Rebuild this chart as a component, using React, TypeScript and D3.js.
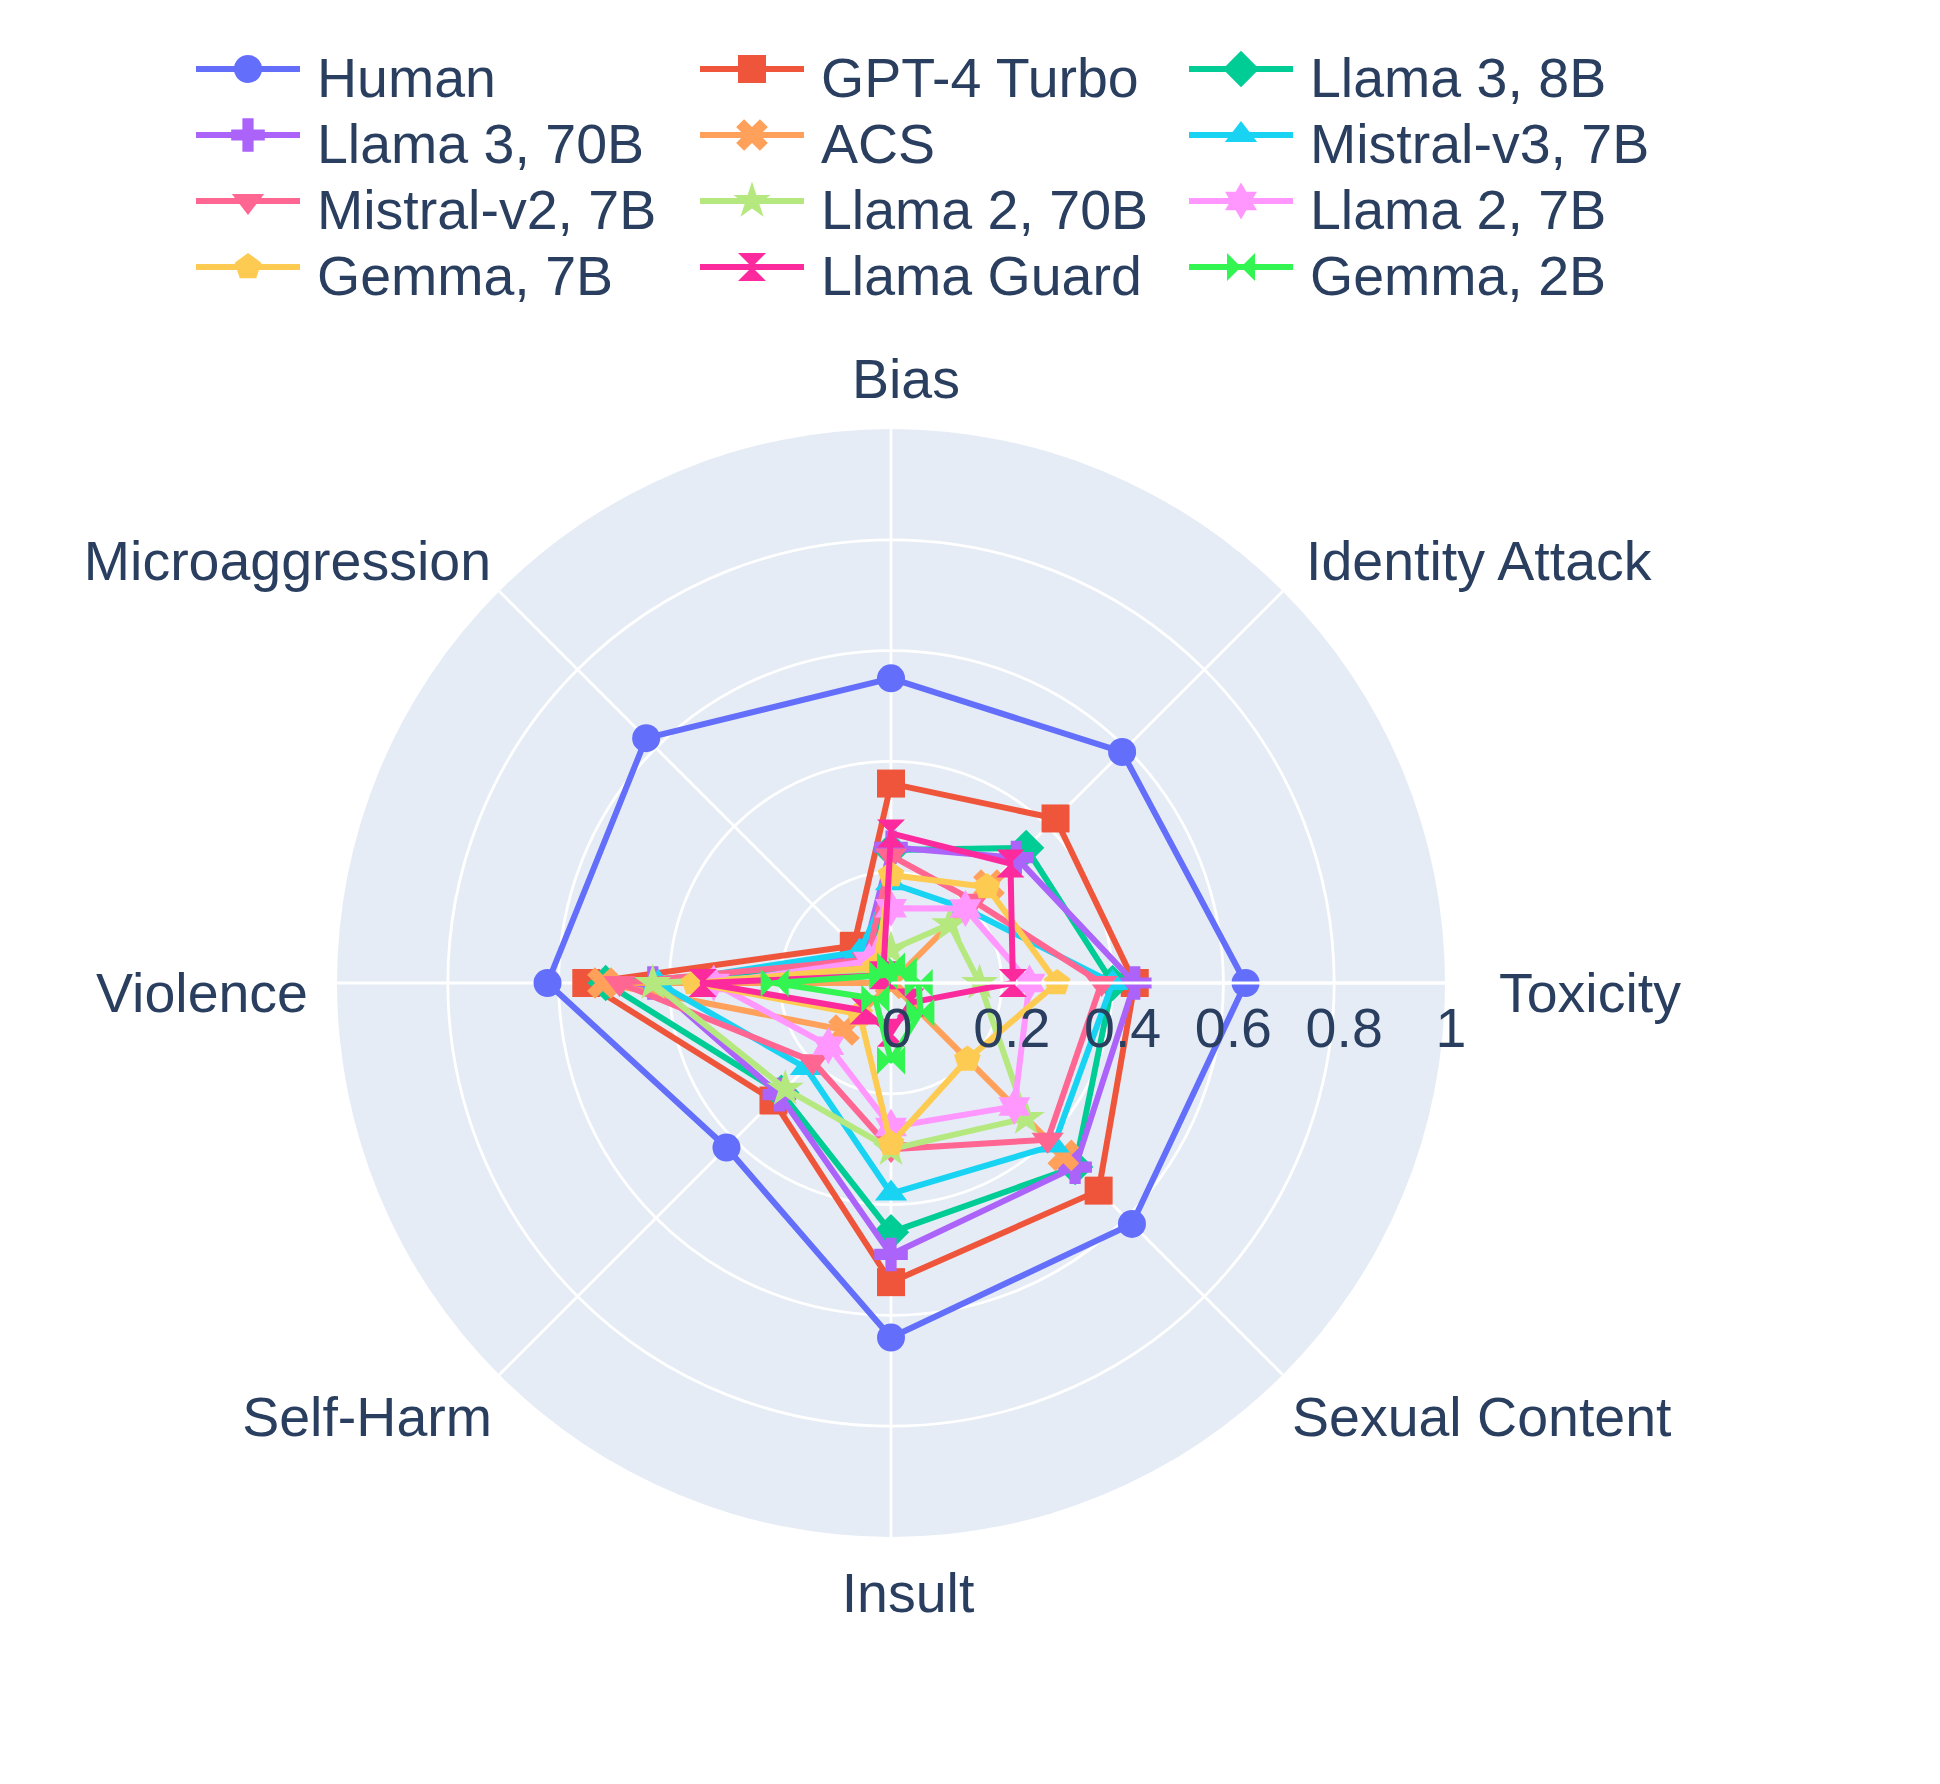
import React from 'react';
import * as d3 from 'd3';

// ---------- data ----------
const categories = [
  'Toxicity',
  'Identity Attack',
  'Bias',
  'Microaggression',
  'Violence',
  'Self-Harm',
  'Insult',
  'Sexual Content',
];

const radialTicks = [0, 0.2, 0.4, 0.6, 0.8, 1];
const radialTickLabels = ['0', '0.2', '0.4', '0.6', '0.8', '1'];
const gridValues = [0.2, 0.4, 0.6, 0.8];

const seriesNames = [
  'Human',
  'GPT-4 Turbo',
  'Llama 3, 8B',
  'Llama 3, 70B',
  'ACS',
  'Mistral-v3, 7B',
  'Mistral-v2, 7B',
  'Llama 2, 70B',
  'Llama 2, 7B',
  'Gemma, 7B',
  'Llama Guard',
  'Gemma, 2B',
];

const seriesColors = [
  '#636efa',
  '#EF553B',
  '#00cc96',
  '#ab63fa',
  '#FFA15A',
  '#19d3f3',
  '#FF6692',
  '#B6E880',
  '#FF97FF',
  '#FECB52',
  '#FC2A9C',
  '#33F552',
];

const seriesSymbols = [
  'circle',
  'square',
  'diamond',
  'cross',
  'x',
  'triangle-up',
  'triangle-down',
  'star',
  'hexagram',
  'pentagon',
  'hourglass',
  'bowtie',
];

// values in category order: Toxicity, Identity Attack, Bias, Microaggression,
// Violence, Self-Harm, Insult, Sexual Content
const human = [0.64, 0.59, 0.55, 0.625, 0.62, 0.42, 0.64, 0.615];
const gpt4Turbo = [0.44, 0.42, 0.36, 0.095, 0.55, 0.3, 0.54, 0.53];
const llama3_8b = [0.4, 0.345, 0.24, 0.05, 0.515, 0.28, 0.45, 0.47];
const llama3_70b = [0.44, 0.32, 0.245, 0.07, 0.43, 0.285, 0.49, 0.47];
const acs = [0, 0.25, 0, 0, 0.52, 0.12, 0, 0.44];
const mistralV3_7b = [0.4, 0.19, 0.18, 0.08, 0.42, 0.217, 0.38, 0.415];
const mistralV2_7b = [0.38, 0.21, 0.23, 0.06, 0.49, 0.2, 0.3, 0.4];
const llama2_70b = [0.16, 0.15, 0.06, 0.03, 0.43, 0.27, 0.3, 0.345];
const llama2_7b = [0.25, 0.19, 0.135, 0.056, 0.32, 0.16, 0.26, 0.315];
const gemma7b = [0.3, 0.245, 0.195, 0.04, 0.355, 0.08, 0.29, 0.195];
const llamaGuard = [0.22, 0.305, 0.27, 0.02, 0.34, 0.07, 0.09, 0.05];
const gemma2b = [0.05, 0.03, 0.03, 0.02, 0.21, 0.04, 0.14, 0.075];

const seriesValues = [
  human,
  gpt4Turbo,
  llama3_8b,
  llama3_70b,
  acs,
  mistralV3_7b,
  mistralV2_7b,
  llama2_70b,
  llama2_7b,
  gemma7b,
  llamaGuard,
  gemma2b,
];

// ---------- layout ----------
const W = 1940;
const H = 1784;
const CX = 891;
const CY = 983;
const R = 554;
const FONT = '"Liberation Sans", Arial, Helvetica, sans-serif';
const FONT_SIZE = 55.5;
const TEXT = '#2a3f5f';
const BG = '#E5ECF6';
const MARKER_R = 14;
const LINE_W = 6;
const GRID_W = 2.8;

// angular label placement (absolute px)
const angularLabelPos: [number, number, string][] = [
  [1499, 1012, 'start'],
  [1306, 580, 'start'],
  [906, 398, 'middle'],
  [491, 580, 'end'],
  [308, 1012, 'end'],
  [492, 1436, 'end'],
  [908, 1612, 'middle'],
  [1292, 1436, 'start'],
];

const LEGEND_COL_X = [196, 700, 1189];
const LEGEND_ROW_Y0 = 69;
const LEGEND_ROW_DY = 66;
const LEGEND_LINE_LEN = 104;

function f(n: number) {
  return Math.round(n * 100) / 100;
}

function symbolPath(sym: string, r: number): string {
  switch (sym) {
    case 'circle': {
      const rs = f(r);
      return `M${rs},0A${rs},${rs} 0 1,1 0,-${rs}A${rs},${rs} 0 0,1 ${rs},0Z`;
    }
    case 'square': {
      const rs = f(r);
      return `M${rs},${rs}H-${rs}V-${rs}H${rs}Z`;
    }
    case 'diamond': {
      const rd = f(r * 1.3);
      return `M${rd},0L0,${rd}L-${rd},0L0,-${rd}Z`;
    }
    case 'cross': {
      const rc = f(r * 0.4);
      const rc2 = f(r * 1.2);
      return `M${rc2},${rc}H${rc}V${rc2}H-${rc}V${rc}H-${rc2}V-${rc}H-${rc}V-${rc2}H${rc}V-${rc}H${rc2}Z`;
    }
    case 'x': {
      const rx = f((r * 0.8) / Math.sqrt(2));
      const ne = `l${rx},${rx}`;
      const se = `l${rx},-${rx}`;
      const sw = `l-${rx},-${rx}`;
      const nw = `l-${rx},${rx}`;
      return `M0,${rx}${ne}${se}${sw}${se}${sw}${nw}${sw}${nw}${ne}${nw}${ne}Z`;
    }
    case 'triangle-up': {
      const rt = f((r * 2) / Math.sqrt(3));
      const r2 = f(r / 2);
      const rs = f(r);
      return `M-${rt},${r2}H${rt}L0,-${rs}Z`;
    }
    case 'triangle-down': {
      const rt = f((r * 2) / Math.sqrt(3));
      const r2 = f(r / 2);
      const rs = f(r);
      return `M-${rt},-${r2}H${rt}L0,${rs}Z`;
    }
    case 'pentagon': {
      const x1 = f(r * 0.951);
      const x2 = f(r * 0.588);
      const y0 = f(-r);
      const y1 = f(r * -0.309);
      const y2 = f(r * 0.809);
      return `M${x1},${y1}L${x2},${y2}H-${x2}L-${x1},${y1}L0,${y0}Z`;
    }
    case 'star': {
      const rs = r * 1.4;
      const x1 = f(rs * 0.225);
      const x2 = f(rs * 0.951);
      const x3 = f(rs * 0.363);
      const x4 = f(rs * 0.588);
      const y0 = f(-rs);
      const y1 = f(rs * -0.309);
      const y3 = f(rs * 0.118);
      const y4 = f(rs * 0.809);
      const y5 = f(rs * 0.382);
      return `M${x1},${y1}H${x2}L${x3},${y3}L${x4},${y4}L0,${y5}L-${x4},${y4}L-${x3},${y3}L-${x2},${y1}H-${x1}L0,${y0}Z`;
    }
    case 'hexagram': {
      const y = f(r * 0.66);
      const x1 = f(r * 0.38);
      const x2 = f(r * 0.76);
      return `M-${x2},0l-${x1},-${y}h${x2}l${x1},-${y}l${x1},${y}h${x2}l-${x1},${y}l${x1},${y}h-${x2}l-${x1},${y}l-${x1},-${y}h-${x2}Z`;
    }
    case 'hourglass': {
      const rs = f(r);
      return `M${rs},${rs}H-${rs}L${rs},-${rs}H-${rs}Z`;
    }
    case 'bowtie': {
      const rs = f(r);
      return `M${rs},${rs}V-${rs}L-${rs},${rs}V-${rs}Z`;
    }
    default:
      return '';
  }
}

export default function App() {
  const rScale = d3.scaleLinear().domain([0, 1]).range([0, R]);
  const angleScale = d3
    .scaleLinear()
    .domain([0, categories.length])
    .range([Math.PI / 2, Math.PI / 2 - 2 * Math.PI]);

  const line = d3
    .lineRadial<number>()
    .angle((_d, i) => angleScale(i))
    .radius((d) => rScale(d))
    .curve(d3.curveLinearClosed);

  return (
    <svg
      width={W}
      height={H}
      viewBox={`0 0 ${W} ${H}`}
      style={{ position: 'absolute', left: 0, top: 0, background: '#fff' }}
      fontFamily={FONT}
    >
      <rect x={0} y={0} width={W} height={H} fill="#fff" />

      {/* legend */}
      <g>
        {seriesNames.map((name, i) => {
          const col = i % 3;
          const row = Math.floor(i / 3);
          const x0 = LEGEND_COL_X[col];
          const y = LEGEND_ROW_Y0 + row * LEGEND_ROW_DY;
          return (
            <g key={name}>
              <line
                x1={x0}
                x2={x0 + LEGEND_LINE_LEN}
                y1={y}
                y2={y}
                stroke={seriesColors[i]}
                strokeWidth={LINE_W}
              />
              <path
                d={symbolPath(seriesSymbols[i], MARKER_R)}
                transform={`translate(${x0 + LEGEND_LINE_LEN / 2},${y})`}
                fill={seriesColors[i]}
              />
              <text
                x={x0 + 121}
                y={y + 28}
                fontSize={FONT_SIZE}
                fill={TEXT}
              >
                {name}
              </text>
            </g>
          );
        })}
      </g>

      <g transform={`translate(${CX},${CY})`}>
        {/* background */}
        <circle r={rScale(1)} fill={BG} />
        {gridValues.map((v) => (
          <circle
            key={v}
            r={rScale(v)}
            fill="none"
            stroke="#fff"
            strokeWidth={GRID_W}
          />
        ))}
        {categories.map((c, i) => {
          const [x, y] = d3.pointRadial(angleScale(i), rScale(1));
          return (
            <line
              key={c}
              x1={0}
              y1={0}
              x2={x}
              y2={y}
              stroke="#fff"
              strokeWidth={GRID_W}
            />
          );
        })}

        {/* traces */}
        {seriesValues.map((vals, si) => (
          <g key={seriesNames[si]}>
            <path
              d={line(vals) || ''}
              fill="none"
              stroke={seriesColors[si]}
              strokeWidth={LINE_W}
              strokeLinejoin="round"
            />
            {vals.map((v, i) => {
              const [x, y] = d3.pointRadial(angleScale(i), rScale(v));
              return (
                <path
                  key={i}
                  d={symbolPath(seriesSymbols[si], MARKER_R)}
                  transform={`translate(${x},${y})`}
                  fill={seriesColors[si]}
                />
              );
            })}
          </g>
        ))}

        {/* radial axis line above traces */}
        <line
          x1={0}
          y1={0}
          x2={rScale(1)}
          y2={0}
          stroke="#fff"
          strokeWidth={GRID_W}
        />

        {/* radial tick labels */}
        {radialTicks.map((t, i) => (
          <text
            key={t}
            x={rScale(t) + (radialTickLabels[i].length > 1 ? 10 : 6)}
            y={64}
            fontSize={FONT_SIZE}
            fill={TEXT}
            textAnchor="middle"
          >
            {radialTickLabels[i]}
          </text>
        ))}
      </g>

      {/* angular labels */}
      {categories.map((c, i) => (
        <text
          key={c}
          x={angularLabelPos[i][0]}
          y={angularLabelPos[i][1]}
          fontSize={FONT_SIZE}
          fill={TEXT}
          textAnchor={angularLabelPos[i][2] as any}
        >
          {c}
        </text>
      ))}
    </svg>
  );
}
